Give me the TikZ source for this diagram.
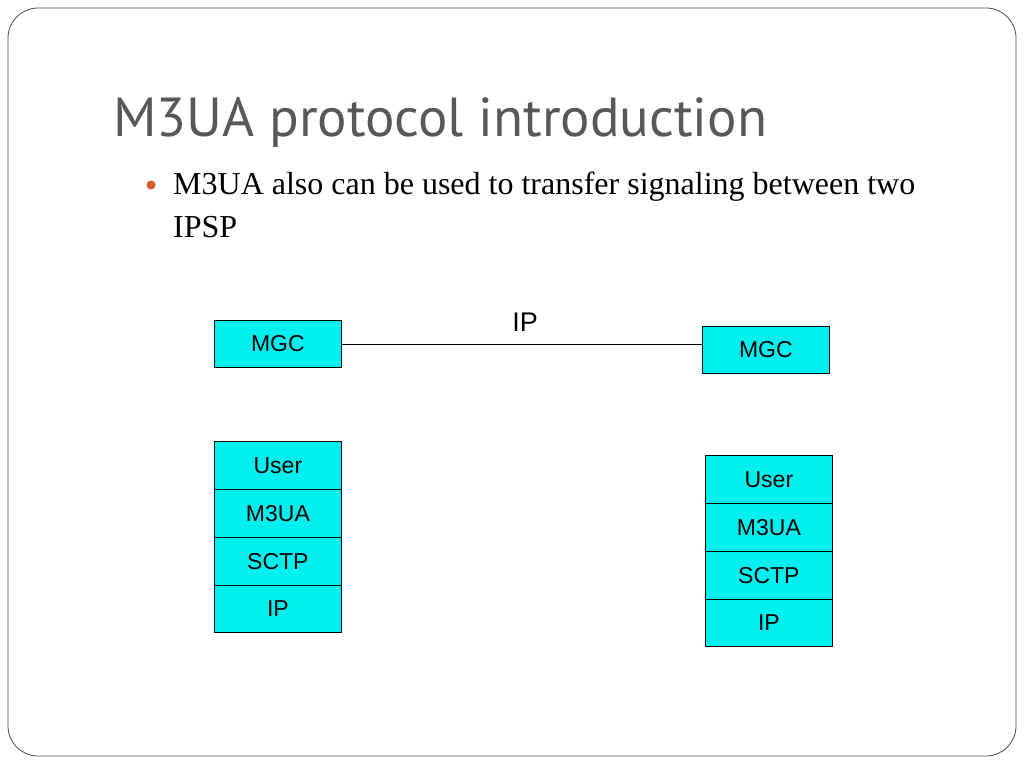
\documentclass[tikz,border=0pt]{standalone}
\usepackage{fontspec}
\setmainfont{Liberation Serif}
\newfontfamily\titlef{PT Sans}
\newfontfamily\arialf{Liberation Sans}
\definecolor{boxc}{RGB}{0,240,240}
\definecolor{titlec}{RGB}{88,88,88}
\definecolor{bul}{RGB}{214,90,40}
\begin{document}
\begin{tikzpicture}[x=1pt,y=-1pt,
  box/.style={draw=black,fill=boxc,line width=0.8pt,minimum width=127pt,minimum height=48pt,inner sep=0pt,font=\arialf\fontsize{23}{24}\selectfont,anchor=north west},
  btxt/.style={anchor=base west,inner sep=0pt,font=\fontsize{32}{36}\selectfont}]
\useasboundingbox (0,0) rectangle (1024,768);
\draw[line width=0.8pt,rounded corners=30pt,black!70] (8,8) rectangle (1016,756);
\node[anchor=base west,inner sep=0pt,text=titlec,font=\titlef\fontsize{55}{58}\selectfont] (title) at (113,136) {M3UA protocol introduction};
\fill[bul] (151,185) circle (4.5pt);
\node[btxt] (bt) at (173,194) {M3UA also can be used to transfer signaling between two};
\node[btxt] (bt2) at (173,237) {IPSP};
\node[box,minimum height=47pt] (m1) at (214,320) {MGC};
\node[box,minimum height=47pt] (m2) at (702,326) {MGC};
\draw[line width=0.8pt] (m1.east) -- (m1.east -| m2.west);
\node[font=\arialf\fontsize{27}{28}\selectfont,anchor=base] (ip) at (525,331) {IP};
\node[box] (u1) at (214,441) {User};
\node[box] (a1) at (214,489) {M3UA};
\node[box] (s1) at (214,537) {SCTP};
\node[box,minimum height=47pt] (i1) at (214,585) {IP};
\node[box] (u2) at (705,455) {User};
\node[box] (a2) at (705,503) {M3UA};
\node[box] (s2) at (705,551) {SCTP};
\node[box,minimum height=47pt] (i2) at (705,599) {IP};
\end{tikzpicture}
\end{document}
